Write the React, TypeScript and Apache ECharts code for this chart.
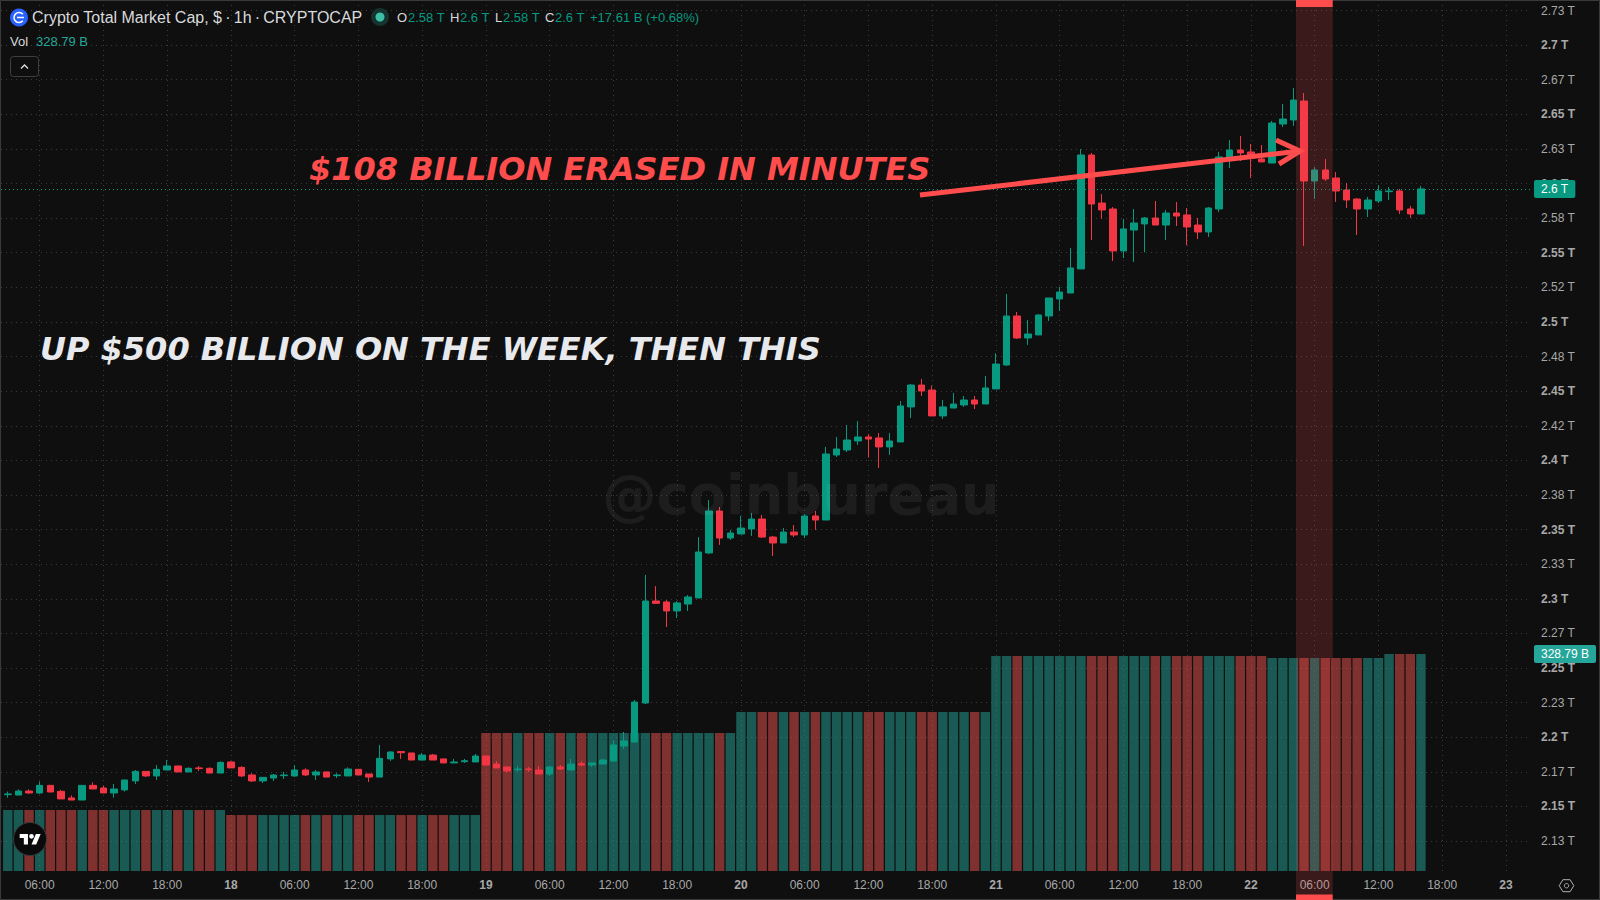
import React, { useEffect, useRef } from "react";
import * as echarts from "echarts";

// Hourly candles, values in billions of USD: [open, close, low, high]
const candles: number[][] = [
  [2158.5,2159.0,2156.3,2160.7],[2158.2,2161.1,2158.2,2162.3],[2161.1,2159.7,2159.0,2162.3],[2159.7,2165.2,2159.0,2167.9],
  [2165.2,2160.4,2160.4,2165.2],[2160.9,2155.4,2155.4,2161.9],[2156.1,2154.6,2154.6,2158.0],[2154.6,2165.2,2154.6,2165.2],
  [2165.2,2162.6,2162.6,2167.4],[2163.3,2159.7,2159.7,2164.8],[2159.7,2162.6,2156.3,2166.2],[2161.9,2169.1,2160.7,2169.1],
  [2168.4,2175.3,2166.2,2176.3],[2175.3,2172.0,2171.2,2175.3],[2172.0,2176.8,2169.1,2179.9],[2176.3,2179.2,2176.3,2183.5],
  [2179.2,2174.9,2174.9,2179.2],[2174.9,2177.5,2174.9,2178.2],[2177.8,2177.3,2175.6,2179.2],[2177.5,2174.1,2174.1,2178.2],
  [2174.1,2181.8,2174.1,2182.6],[2182.1,2177.8,2177.8,2182.6],[2178.2,2172.0,2171.2,2179.0],[2172.7,2168.4,2167.6,2173.9],
  [2168.4,2171.0,2166.9,2171.0],[2170.5,2172.7,2168.4,2173.4],[2172.2,2172.7,2169.8,2174.9],[2172.0,2176.3,2171.2,2179.9],
  [2176.3,2172.7,2172.0,2177.5],[2172.7,2174.9,2169.1,2176.3],[2174.9,2171.2,2171.2,2174.9],[2172.2,2172.7,2170.5,2173.9],
  [2172.0,2177.0,2172.0,2178.2],[2176.8,2172.7,2172.7,2176.8],[2173.4,2171.2,2167.6,2173.4],[2171.2,2184.7,2171.2,2194.4],
  [2184.3,2189.3,2182.8,2189.8],[2189.6,2188.8,2184.3,2190.0],[2188.6,2183.5,2183.5,2188.6],[2183.5,2187.1,2183.5,2188.6],
  [2187.1,2183.5,2183.5,2187.9],[2184.3,2181.4,2181.4,2184.3],[2181.4,2182.1,2181.4,2184.3],[2182.3,2183.0,2181.4,2184.3],
  [2182.1,2186.4,2182.1,2187.9],[2186.4,2179.9,2179.9,2186.4],[2180.6,2177.8,2177.8,2182.8],[2178.5,2175.6,2174.9,2178.5],
  [2176.5,2177.0,2174.9,2179.2],[2177.0,2176.5,2174.9,2178.5],[2176.3,2173.4,2173.4,2179.2],[2173.4,2178.5,2172.0,2178.5],
  [2178.5,2177.0,2176.3,2179.9],[2176.3,2180.6,2176.3,2184.3],[2180.9,2179.9,2179.2,2182.8],[2179.9,2181.4,2178.5,2181.4],
  [2180.6,2183.5,2180.6,2184.3],[2182.8,2194.4,2182.1,2197.3],[2193.6,2197.3,2191.5,2203.8],[2196.5,2225.4,2196.5,2226.9],
  [2224.7,2298.4,2224.0,2317.2],[2298.4,2296.7,2296.2,2309.2],[2297.7,2291.2,2279.6,2299.1],[2291.2,2297.0,2286.1,2298.2],
  [2296.2,2301.3,2291.2,2302.7],[2300.6,2333.8,2300.6,2344.6],[2333.1,2363.4,2332.4,2371.4],[2363.4,2343.9,2338.9,2366.3],
  [2343.9,2347.5,2342.5,2349.7],[2346.8,2351.1,2346.8,2359.8],[2350.4,2357.6,2345.4,2362.0],[2357.6,2344.6,2343.9,2360.5],
  [2344.6,2340.3,2330.9,2345.4],[2340.3,2348.2,2340.3,2351.1],[2348.2,2346.1,2344.6,2353.3],[2346.1,2359.8,2343.9,2361.2],
  [2359.8,2356.9,2349.7,2363.4],[2356.9,2404.6,2356.9,2409.7],[2403.9,2408.2,2402.4,2416.9],[2407.5,2414.7,2406.0,2425.6],
  [2414.0,2416.9,2411.1,2428.4],[2416.9,2415.4,2402.0,2419.0],[2416.2,2409.7,2394.5,2419.8],[2409.7,2414.0,2403.9,2419.8],
  [2413.3,2439.3,2413.3,2442.9],[2438.6,2454.4,2430.6,2455.2],[2454.4,2450.1,2446.5,2458.8],[2450.8,2432.1,2432.1,2454.0],
  [2432.1,2438.6,2429.9,2443.6],[2437.8,2440.7,2437.8,2448.7],[2440.0,2443.6,2438.6,2446.5],[2443.6,2440.7,2437.1,2446.5],
  [2440.7,2452.3,2440.7,2461.0],[2451.6,2469.6,2451.6,2477.3],[2468.9,2504.3,2468.2,2520.2],[2504.3,2488.4,2487.7,2507.2],
  [2488.4,2491.3,2483.4,2501.4],[2490.6,2505.0,2490.6,2505.7],[2504.3,2517.3,2500.7,2517.3],[2516.6,2521.6,2507.9,2525.3],
  [2520.9,2539.0,2520.9,2553.4],[2538.3,2620.6,2538.3,2624.9],[2620.6,2585.2,2559.2,2622.1],[2585.9,2580.9,2574.4,2592.4],
  [2581.6,2551.3,2544.0,2583.0],[2551.3,2567.2,2546.2,2574.4],[2566.4,2571.5,2543.3,2581.6],[2570.8,2575.1,2550.3,2575.8],
  [2575.1,2570.0,2570.0,2587.4],[2570.0,2578.7,2559.2,2580.9],[2578.7,2576.5,2569.3,2586.7],[2577.3,2568.6,2555.4,2582.3],
  [2570.0,2565.0,2559.9,2575.1],[2565.0,2582.3,2561.4,2583.0],[2581.6,2619.2,2579.4,2622.8],[2618.4,2624.2,2611.2,2631.4],
  [2624.2,2622.1,2616.3,2634.3],[2622.8,2618.4,2604.0,2628.6],[2617.7,2615.6,2615.6,2627.8],[2614.8,2643.7,2614.8,2645.2],
  [2643.0,2646.6,2640.8,2657.5],[2645.9,2660.3,2641.6,2669.0],[2659.6,2601.8,2554.9,2665.4],[2601.8,2609.8,2588.8,2611.9],
  [2609.8,2603.3,2601.8,2617.7],[2604.0,2594.6,2586.7,2608.3],[2595.3,2588.1,2582.3,2600.4],[2588.8,2581.6,2562.8,2589.5],
  [2581.6,2588.1,2575.8,2590.3],[2587.4,2594.6,2585.9,2598.9],[2594.1,2594.6,2588.1,2597.5],[2594.6,2580.9,2578.0,2596.1],
  [2581.6,2578.0,2575.1,2583.8],[2578.0,2596.1,2578.0,2598.2],
];

// Volume in billions, as plotted: [number of consecutive bars, level]
const volumeRuns: number[][] = [
  [21, 92.4], [24, 84.8], [24, 209], [24, 241], [26, 325.8], [11, 322.7], [4, 328.79],
];

const priceTickLabels = [
  "2.73 T","2.7 T","2.67 T","2.65 T","2.63 T","2.6 T","2.58 T","2.55 T","2.52 T","2.5 T","2.48 T","2.45 T","2.42 T",
  "2.4 T","2.38 T","2.35 T","2.33 T","2.3 T","2.27 T","2.25 T","2.23 T","2.2 T","2.17 T","2.15 T","2.13 T",
];
const timeTickLabels = [
  "06:00","12:00","18:00","18","06:00","12:00","18:00","19","06:00","12:00","18:00","20","06:00","12:00","18:00",
  "21","06:00","12:00","18:00","22","06:00","12:00","18:00","23",
];
const lastPriceLabel = "2.6 T";
const lastVolumeLabel = "328.79 B";

const UP = "#089981";
const DOWN = "#f23645";
const VOL_UP = "rgba(38,166,154,0.5)";
const VOL_DOWN = "rgba(239,83,80,0.5)";
const BG = "#0f0f0f";
const GRID = "#3b3b3b";
const AXIS_TEXT = "#a8a8a8";
const ACCENT = "#ff4d4d";
const UI = '"Liberation Sans", Arial, sans-serif';
const DEJAVU = '"DejaVu Sans", sans-serif';

const volumes: number[] = volumeRuns.flatMap(([n, v]) => Array(n).fill(v));

echarts.graphic.registerShape(
  "tvlogo",
  echarts.graphic.extendPath(
    "M14 22H7V11H0V4h14v18zM28 22h-8l7.5-18h8L28 22zM24 8a4 4 0 1 1-8 0 4 4 0 0 1 8 0z",
    {}
  ) as any
);

function headerText(text: string, x: number, y: number, fill: string, size: number) {
  return {
    type: "text", x, y, z: 120, silent: true,
    style: { text, fill, font: `${size}px ${UI}`, verticalAlign: "middle" },
  };
}

export default function App() {
  const ref = useRef<HTMLDivElement>(null);
  useEffect(() => {
    const chart = echarts.init(ref.current!, undefined, { renderer: "svg" });
    const gridLeft = 1;
    const gridWidth = 1529;
    const firstX = 7.8;
    const step = 10.625;
    const xMin = (gridLeft - firstX) / step;
    const xMax = (gridLeft + gridWidth - firstX) / step;
    const timeTicks = timeTickLabels.map((_, k) => 3 + k * 6);
    const last = candles[candles.length - 1];
    const lastVol = volumes[volumes.length - 1];
    const volMax = (lastVol * 871) / 217;

    chart.setOption({
      animation: false,
      backgroundColor: BG,
      grid: [
        { left: gridLeft, width: gridWidth, top: 10.5, height: 830.5 },
        { left: gridLeft, width: gridWidth, top: 0, height: 871 },
      ],
      xAxis: [
        { type: "value", gridIndex: 0, min: xMin, max: xMax, show: false, splitLine: { show: false } },
        {
          type: "value", gridIndex: 1, min: xMin, max: xMax, position: "bottom",
          axisLine: { show: false },
          axisTick: { show: false, customValues: timeTicks },
          splitLine: { show: true, lineStyle: { color: GRID, type: [1, 4], width: 1 } },
          axisLabel: {
            customValues: timeTicks, margin: 8, showMinLabel: true, showMaxLabel: true,
            formatter: (v: number) => {
              const s = timeTickLabels[Math.round((v - 3) / 6)];
              return s.includes(":") ? `{n|${s}}` : `{b|${s}}`;
            },
            rich: {
              n: { color: AXIS_TEXT, fontSize: 12, fontFamily: UI },
              b: { color: AXIS_TEXT, fontSize: 12, fontFamily: UI, fontWeight: "bold" },
            },
          },
        },
      ],
      yAxis: [
        {
          type: "value", gridIndex: 0, position: "right", min: 2125, max: 2725, interval: 25,
          axisLine: { show: false }, axisTick: { show: false },
          splitLine: { show: true, lineStyle: { color: GRID, type: [1, 4], width: 1 } },
          axisLabel: {
            margin: 11, align: "left", showMinLabel: true, showMaxLabel: true,
            formatter: (v: number) => {
              const k = Math.round((2725 - v) / 25);
              return (k % 2 === 1 ? "{b|" : "{n|") + priceTickLabels[k] + "}";
            },
            rich: {
              n: { color: AXIS_TEXT, fontSize: 12, fontFamily: UI },
              b: { color: AXIS_TEXT, fontSize: 12, fontFamily: UI, fontWeight: "bold" },
            },
          },
        },
        { type: "value", gridIndex: 1, min: 0, max: volMax, show: false, splitLine: { show: false } },
      ],
      series: [
        {
          type: "bar", name: "Vol", xAxisIndex: 1, yAxisIndex: 1, barWidth: 9.4, silent: true,
          data: volumes.map((v, i) => ({
            value: [i, v],
            itemStyle: { color: candles[i][1] >= candles[i][0] ? VOL_UP : VOL_DOWN },
          })),
          markLine: {
            silent: true, symbol: "none", precision: 2, data: [{ yAxis: lastVol }],
            lineStyle: { color: "transparent", width: 0 },
            label: {
              show: true, position: "end", distance: 4, formatter: lastVolumeLabel, color: "#ffffff", fontSize: 12, fontFamily: UI,
              backgroundColor: "#26a69a", padding: [3, 7, 3, 7], borderRadius: 2,
            },
          },
        },
        {
          type: "candlestick", name: "Crypto Total Market Cap", xAxisIndex: 0, yAxisIndex: 0, barWidth: 7, silent: true,
          data: candles.map((c, i) => [i, c[0], c[1], c[2], c[3]]),
          encode: { x: 0, y: [1, 2, 3, 4] },
          itemStyle: { color: UP, color0: DOWN, borderColor: UP, borderColor0: DOWN, borderWidth: 1 },
          markLine: {
            silent: true, symbol: "none", precision: 1, data: [{ yAxis: last[1] }],
            lineStyle: { color: UP, type: [1, 3], width: 1 },
            label: {
              position: "end", distance: 4, formatter: lastPriceLabel, color: "#ffffff", fontSize: 12, fontFamily: UI,
              backgroundColor: UP, padding: [3, 7, 3, 7], borderRadius: 2,
            },
          },
        },
      ],
      graphic: { elements: [
        // watermark
        { type: "text", x: 801, y: 495.5, z: 100, silent: true,
          style: { text: "@coinbureau", fill: "rgba(255,255,255,0.06)", font: `bold 54.3px ${DEJAVU}`, align: "center", verticalAlign: "middle" } },
        // highlighted hour band
        { type: "rect", z: 101, silent: true, shape: { x: 1296, y: 0, width: 36.7, height: 900 }, style: { fill: "rgba(255,77,77,0.18)" } },
        { type: "rect", z: 131, silent: true, shape: { x: 1296, y: 0, width: 36.7, height: 7 }, style: { fill: ACCENT } },
        { type: "rect", z: 131, silent: true, shape: { x: 1296, y: 894.5, width: 36.7, height: 5.5 }, style: { fill: ACCENT } },
        // annotations
        { type: "text", x: 309, y: 169, z: 110, silent: true,
          style: { text: "$108 BILLION ERASED IN MINUTES", fill: ACCENT, font: `italic bold 32px ${DEJAVU}`, verticalAlign: "middle" } },
        { type: "text", x: 40, y: 349, z: 110, silent: true,
          style: { text: "UP $500 BILLION ON THE WEEK, THEN THIS", fill: "#e8e9ec", font: `italic bold 32px ${DEJAVU}`, verticalAlign: "middle" } },
        { type: "line", z: 111, silent: true, shape: { x1: 920, y1: 195, x2: 1300, y2: 151 }, style: { stroke: ACCENT, lineWidth: 5 } },
        { type: "polyline", z: 111, silent: true, shape: { points: [[1276, 140], [1300, 151], [1279, 164]] }, style: { stroke: ACCENT, lineWidth: 5, fill: "none" } },
        // legend header
        { type: "circle", z: 120, silent: true, shape: { cx: 19, cy: 17.5, r: 9 }, style: { fill: "#2962ff" } },
        { type: "arc", z: 121, silent: true, shape: { cx: 19, cy: 17.5, r: 5, startAngle: 0.7, endAngle: 5.6 }, style: { stroke: "#ffffff", lineWidth: 1.5, fill: "none" } },
        { type: "line", z: 121, silent: true, shape: { x1: 17, y1: 17.5, x2: 24, y2: 17.5 }, style: { stroke: "#ffffff", lineWidth: 1.5 } },
        headerText("Crypto Total Market Cap, $\u2009·\u20091h\u2009·\u2009CRYPTOCAP", 32, 17.5, "#d9dadd", 16),
        { type: "circle", z: 120, silent: true, shape: { cx: 380, cy: 17, r: 9 }, style: { fill: "#15332f" } },
        { type: "circle", z: 121, silent: true, shape: { cx: 380, cy: 17, r: 4.5 }, style: { fill: "#3dbfa5" } },
        headerText("O", 397, 17.5, "#d9dadd", 13),
        headerText("2.58 T", 408, 17.5, UP, 13),
        headerText("H", 450, 17.5, "#d9dadd", 13),
        headerText("2.6 T", 460, 17.5, UP, 13),
        headerText("L", 495, 17.5, "#d9dadd", 13),
        headerText("2.58 T", 503, 17.5, UP, 13),
        headerText("C", 545, 17.5, "#d9dadd", 13),
        headerText("2.6 T", 555, 17.5, UP, 13),
        headerText("+17.61 B (+0.68%)", 590, 17.5, UP, 13),
        headerText("Vol", 10, 41.5, "#d9dadd", 13),
        headerText("328.79 B", 36, 41.5, "#26a69a", 13),
        { type: "rect", z: 120, silent: true, shape: { x: 10.5, y: 56.5, width: 28, height: 20, r: 3 }, style: { fill: "none", stroke: "#3f3f3f", lineWidth: 1 } },
        { type: "polyline", z: 121, silent: true, shape: { points: [[21, 68.5], [24.5, 65], [28, 68.5]] }, style: { stroke: "#e0e0e0", lineWidth: 1.3, fill: "none" } },
        // TradingView badge
        { type: "circle", z: 120, silent: true, shape: { cx: 30, cy: 839, r: 16.5 }, style: { fill: "#0a0a0a", stroke: "#3a3a3a", lineWidth: 1 } },
        { type: "tvlogo", z: 121, silent: true, x: 19.7, y: 831.6, scaleX: 0.59, scaleY: 0.59, style: { fill: "#ffffff" } },
        // settings icon
        { type: "polygon", z: 120, silent: true, x: 1566.5, y: 885.7,
          shape: { points: [[-7.3, 0], [-3.6, -6], [3.6, -6], [7.3, 0], [3.6, 6], [-3.6, 6]] },
          style: { fill: "none", stroke: "#b0b0b0", lineWidth: 1 } },
        { type: "circle", z: 120, silent: true, shape: { cx: 1566.5, cy: 885.7, r: 2.2 }, style: { fill: "none", stroke: "#b0b0b0", lineWidth: 1 } },
        // pane frame
        { type: "rect", z: 130, silent: true, shape: { x: 0.5, y: 0.5, width: 1599, height: 899 }, style: { fill: "none", stroke: "#3a3a3a", lineWidth: 1 } },
      ] },
    });
    return () => chart.dispose();
  }, []);
  return <div ref={ref} style={{ position: "fixed", left: 0, top: 0, width: 1600, height: 900, background: BG }} />;
}
